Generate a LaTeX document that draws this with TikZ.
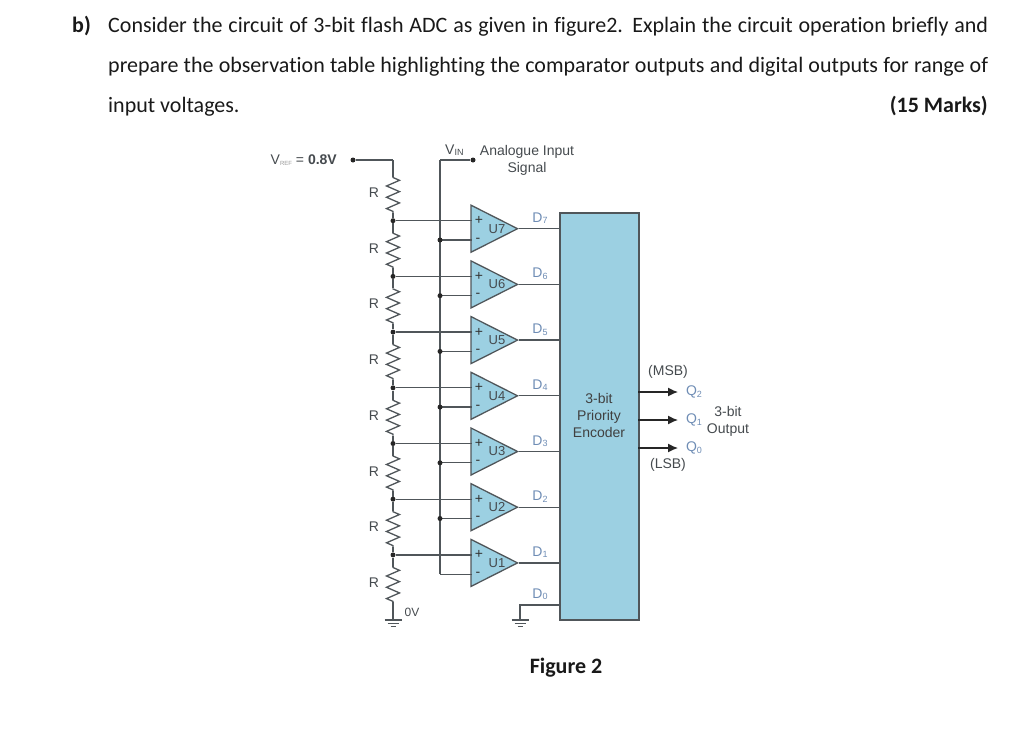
\documentclass[tikz,border=0pt]{standalone}
\usepackage{fontspec}
\setmainfont{Carlito}[RawFeature={-liga;-clig;-dlig}]
\newfontfamily\arialf{Liberation Sans}
\usetikzlibrary{shapes.geometric,arrows.meta,decorations.pathmorphing,calc}
\definecolor{wirec}{HTML}{50565A}
\definecolor{fillc}{HTML}{9CD0E2}
\definecolor{txtc}{HTML}{454A4E}
\definecolor{bluet}{HTML}{6F8DB5}
\tikzset{
  wire/.style={draw=wirec,line width=1.3pt},
  res/.style={wire,decorate,decoration={zigzag,segment length=11.3pt,amplitude=6.5pt,pre length=0.5pt,post length=0.5pt}},
  dotn/.style={circle,fill=black!85,inner sep=0pt,minimum size=5pt},
  para/.style={anchor=base west,inner sep=0pt,font=\fontsize{22}{26}\selectfont,text=black!90},
  ctext/.style={inner sep=0pt,text=txtc,font=\arialf\fontsize{14}{17}\selectfont,align=center},
  dlab/.style={inner sep=0pt,text=bluet,font=\arialf\fontsize{14}{16}\selectfont},
  comp/.style={isosceles triangle,isosceles triangle apex angle=53,isosceles triangle stretches,draw=wirec,line width=1.3pt,fill=fillc,minimum width=47pt,minimum height=46.5pt,inner sep=0pt,anchor=apex},
  signs/.style={inner sep=0pt,text=black!80,font=\arialf\fontsize{14}{14}\selectfont},
  outarrow/.style={wire,-{Latex[length=10pt,width=9pt]},black!85},
  gndl/.style={wire}
}
\newcommand{\gndsym}[1]{%
  \draw[gndl] ($(#1)+(-8.5pt,0)$) -- ($(#1)+(8.5pt,0)$);
  \draw[gndl] ($(#1)+(-5.5pt,3.2)$) -- ($(#1)+(5.5pt,3.2)$);
  \draw[gndl] ($(#1)+(-2.5pt,6.4)$) -- ($(#1)+(2.5pt,6.4)$);}
\begin{document}
\begin{tikzpicture}[x=1pt,y=-1pt]
\useasboundingbox (0,0) rectangle (1024,747);
% question text
\node[para,font=\bfseries\fontsize{22}{26}\selectfont] (qb) at (72,32.7) {b)};
\node[para] (l1) at (108,32.7) {\makebox[880pt][s]{Consider the circuit of 3-bit flash ADC as given in figure2. Explain the circuit operation briefly and}};
\node[para] (l2) at (108,72.7) {\makebox[880pt][s]{prepare the observation table highlighting the comparator outputs and digital outputs for range of}};
\node[para] (l3) at (108,112.7) {input voltages.};
\node[para,anchor=base east,font=\bfseries\fontsize{22}{26}\selectfont] (marks) at (988,112.7) {(15 Marks)};
\node[para,anchor=base,font=\bfseries\fontsize{22}{26}\selectfont] (fig) at (566,673) {Figure 2};
% supply labels
\node[ctext,anchor=east] (vreflab) at (337,160.5) {V\raisebox{-1pt}{\fontsize{6}{6}\selectfont\color{black!40}REF} = \textbf{0.8V}};
\node[ctext,anchor=west] (vinlab) at (445,150.5) {V\raisebox{-1pt}{\fontsize{9}{9}\selectfont IN}};
\node[ctext] (siglab) at (527,160.5) {Analogue Input\\Signal};
\node[dotn] (vref) at (353,160) {};
\node[dotn] (vin) at (473,160) {};
\coordinate (vrefc) at (393,160);
\coordinate (vinc) at (440,160);
\draw[wire] (vref) -- (vrefc);
\draw[wire] (vin) -- (vinc);
% encoder
\node[draw=wirec,line width=1.5pt,fill=fillc,minimum width=79pt,minimum height=407pt,inner sep=0pt,anchor=north west] (enc) at (559,212) {};
\node[ctext,text=black!75] (enclab) at (599,415) {3-bit\\Priority\\Encoder};
% ladder
\foreach \u/\k in {7/0,6/1,5/2,4/3,3/4,2/5,1/6}{
  \pgfmathsetmacro{\ymid}{228.7+55.7*\k}
  \pgfmathsetmacro{\yj}{\ymid-8}
  \pgfmathsetmacro{\ym}{\ymid+11.3}
  \node[dotn] (j\u) at (393,\yj) {};
  \node[comp] (U\u) at (519,\ymid) {};
  \node[inner sep=0pt,text=txtc,font=\arialf\fontsize{13}{16}\selectfont] (ul\u) at (497,\ymid) {U\u};
  \node[signs] (plus\u) at (479,\yj) {+};
  \node[signs] (minus\u) at (478,\ym) {-};
  \coordinate (p\u) at (472,\yj);
  \coordinate (m\u) at (472,\ym);
  \coordinate (v\u) at (440,\ym);
  \coordinate (e\u) at (559,\ymid);
  \draw[wire] (j\u) -- (p\u);
  \draw[wire] (v\u) -- (m\u);
  \draw[wire] (U\u.apex) -- (e\u);
  \node[dlab] (dl\u) at (540,\ymid-10.5) {D\raisebox{-1.5pt}{\fontsize{9}{9}\selectfont\u}};
  \node[ctext] (rl\u) at (374,\yj-28) {R};
}
% resistors
\coordinate (t7) at (393,177);
\coordinate (b7) at (393,213);
\draw[wire] (vrefc) -- (t7);
\draw[res] (t7) -- (b7);
\draw[wire] (b7) -- (j7);
\foreach \a/\b in {7/6,6/5,5/4,4/3,3/2,2/1}{
  \coordinate (ra) at ($(j\a)+(0,12)$);
  \coordinate (rb) at ($(j\b)+(0,-8)$);
  \draw[wire] (j\a) -- (ra);
  \draw[res] (ra) -- (rb);
  \draw[wire] (rb) -- (j\b);
}
\node[ctext] (rl0) at (374,583) {R};
\coordinate (ra) at (393,567);
\coordinate (rb) at (393,602);
\coordinate (gl) at (393,620);
\draw[wire] (j1) -- (ra);
\draw[res] (ra) -- (rb);
\draw[wire] (rb) -- (gl);
\gndsym{gl}
\node[ctext,font=\arialf\fontsize{12}{14}\selectfont] (zero) at (412,612) {0V};
% Vin rail
\draw[wire] (vinc) -- (v1);
\foreach \u in {7,6,5,4,3,2}{ \node[dotn] at (v\u) {}; }
% D0
\coordinate (d0e) at (559,605);
\coordinate (d0c) at (520,605);
\coordinate (gr) at (520,620);
\draw[wire] (d0e) -- (d0c) -- (gr);
\gndsym{gr}
\node[dlab] (dl0) at (540,594) {D\raisebox{-1.5pt}{\fontsize{9}{9}\selectfont 0}};
% outputs
\foreach \n/\y in {2/392,1/420,0/448}{
  \coordinate (os\n) at (638,\y);
  \coordinate (oe\n) at (678,\y);
  \draw[outarrow] (os\n) -- (oe\n);
  \node[dlab] (q\n) at (694,\y) {Q\raisebox{-1.5pt}{\fontsize{9}{9}\selectfont\n}};
}
\node[ctext] (msb) at (668,372) {(MSB)};
\node[ctext] (lsb) at (668,465) {(LSB)};
\node[ctext] (out) at (728,421) {3-bit\\Output};
\end{tikzpicture}
\end{document}
